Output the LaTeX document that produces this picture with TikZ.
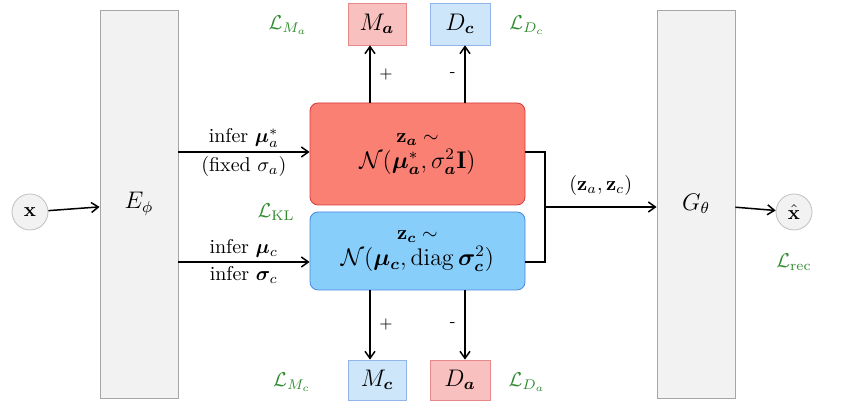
\documentclass[tikz,border=0pt]{standalone}
\usepackage{amsmath,amssymb,bm}
\usetikzlibrary{arrows.meta}
\definecolor{redf}{HTML}{F98072}\definecolor{redd}{HTML}{D63A3A}
\definecolor{bluef}{HTML}{87CEFA}\definecolor{blued}{HTML}{4A86E0}
\definecolor{lred}{HTML}{F8C0BE}\definecolor{lblue}{HTML}{CDE6FA}
\definecolor{gr}{HTML}{2E8B2E}
\begin{document}
\begin{tikzpicture}[x=0.5pt,y=-0.5pt,font=\normalsize,
 bar/.style={draw=gray!70,fill=gray!10,line width=0.4pt},
 circ/.style={circle,draw=gray!50,fill=gray!10,minimum size=18pt,inner sep=0pt},
 ar/.style={-{Straight Barb[length=3.5pt,width=5pt]},line width=0.75pt},
 big/.style={font=\large},
 gl/.style={text=gr}]
\useasboundingbox (0,0) rectangle (842,415);
\node[circ] (x) at (30,212) {$\mathbf{x}$};
\node[bar,minimum width=39pt,minimum height=194pt,big] (E) at (139,204) {$E_\phi$};
\node[bar,minimum width=39pt,minimum height=194pt,big] (G) at (696,204) {$G_\theta$};
\node[circ] (xh) at (794,212) {$\hat{\mathbf{x}}$};
\node[gl] (Lrec) at (794,262) {$\mathcal{L}_{\text{rec}}$};
\node[draw=redd,fill=redf,rounded corners=4pt,minimum width=107.5pt,minimum height=51pt,align=center,line width=0.4pt] (R) at (417.5,154) {$\mathbf{z}_{\bm a}\sim$\\[1pt]\large$\mathcal{N}(\bm\mu_{\bm a}^*,\sigma_{\bm a}^2\mathbf{I})$};
\node[draw=blued,fill=bluef,rounded corners=4pt,minimum width=107.5pt,minimum height=39pt,align=center,line width=0.4pt] (B) at (417.5,251) {$\mathbf{z}_{\bm c}\sim$\\[1pt]\large$\mathcal{N}(\bm\mu_{\bm c},\mathrm{diag}\,\bm\sigma_{\bm c}^2)$};
\node[draw=redd!60,fill=lred,minimum width=29pt,minimum height=21pt,big] (Ma) at (377,24) {$M_{\bm a}$};
\node[draw=blued!60,fill=lblue,minimum width=30pt,minimum height=21pt,big] (Dc) at (460,24) {$D_{\bm c}$};
\node[draw=blued!60,fill=lblue,minimum width=29pt,minimum height=20pt,big] (Mc) at (377,380) {$M_{\bm c}$};
\node[draw=redd!60,fill=lred,minimum width=30pt,minimum height=20pt,big] (Da) at (460,380) {$D_{\bm a}$};
\node[gl] at (288,25) {$\mathcal{L}_{M_a}$};
\node[gl] at (527,25) {$\mathcal{L}_{D_c}$};
\node[gl] at (292,382) {$\mathcal{L}_{M_c}$};
\node[gl] at (527,382) {$\mathcal{L}_{D_a}$};
\node[gl] at (276,212) {$\mathcal{L}_{\text{KL}}$};
\draw[ar] (x) -- (E);
\draw[ar] (G) -- (xh);
\coordinate (e1) at (178,152); \coordinate (e2) at (178,262);
\draw[ar] (e1) -- (R.west|-e1) node[midway,above,inner sep=2pt]{infer $\bm\mu_a^*$} node[midway,below,inner sep=2pt]{(fixed $\sigma_a$)};
\draw[ar] (e2) -- (B.west|-e2) node[midway,above,inner sep=2pt]{infer $\bm\mu_c$} node[midway,below,inner sep=2pt]{infer $\bm\sigma_c$};
\draw[ar] (370,103) -- (Ma.south-|370,0) node[midway,right=1pt,font=\footnotesize]{+};
\draw[ar] (465,103) -- (Dc.south-|465,0) node[midway,left=1pt,font=\footnotesize]{-};
\draw[ar] (370,290) -- (Mc.north-|370,0) node[midway,right=1pt,font=\footnotesize]{+};
\draw[ar] (465,290) -- (Da.north-|465,0) node[midway,left=1pt,font=\footnotesize]{-};
\coordinate (b1) at (545,152); \coordinate (b2) at (545,262); \coordinate (bm) at (545,207);
\draw[line width=0.75pt] (R.east|-b1) -- (b1) -- (b2) -- (B.east|-b2);
\draw[ar] (bm) -- (G.west|-bm) node[midway,above=2pt]{$(\mathbf{z}_a,\mathbf{z}_c)$};
\end{tikzpicture}
\end{document}
